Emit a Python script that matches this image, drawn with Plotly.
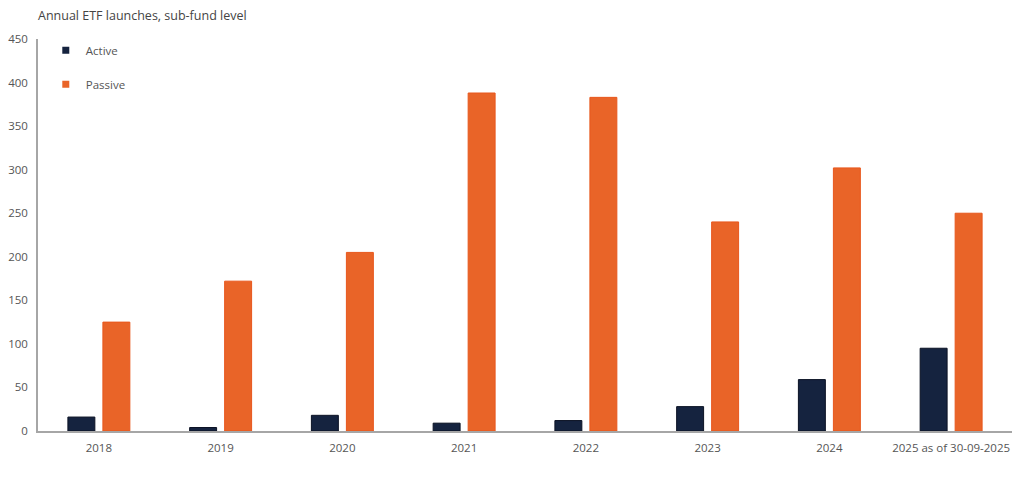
import plotly.graph_objects as go

categories = ["2018", "2019", "2020", "2021", "2022", "2023", "2024", "2025 as of 30-09-2025"]
active = [16, 4, 18, 9, 12, 28, 59, 95]
passive = [125, 172, 205, 388, 383, 240, 302, 250]
y_ticks = [0, 50, 100, 150, 200, 250, 300, 350, 400, 450]

NAVY = "#15233f"
ORANGE = "#e96428"
FONT = "Open Sans"

fig = go.Figure()
fig.add_trace(go.Bar(x=categories, y=active, name="Active", marker=dict(color=NAVY, line=dict(color="#0b1224", width=1)), showlegend=False))
fig.add_trace(go.Bar(x=categories, y=passive, name="Passive", marker=dict(color=ORANGE, line=dict(color="#e8571c", width=1)), showlegend=False))
# legend entries
fig.add_trace(go.Scatter(x=[None], y=[None], mode="markers", name="Active", legendgroup="a",
                         marker=dict(symbol="square", size=7, color=NAVY)))
fig.add_trace(go.Scatter(x=[None], y=[None], mode="markers", name="Passive", legendgroup="p",
                         marker=dict(symbol="square", size=7, color=ORANGE)))

fig.update_layout(
    width=1024, height=491,
    margin=dict(l=30, r=20, t=31, b=68),
    paper_bgcolor="white", plot_bgcolor="white",
    font=dict(family=FONT, size=11, color="#555555"),
    barmode="group", bargap=0.425, bargroupgap=0.23,
    title=dict(text="Annual ETF launches, sub-fund level", x=0.0293, xanchor="left", y=0.984, yanchor="middle",
               font=dict(family=FONT, size=12.5, color="#444444")),
    legend=dict(x=0.008, y=1.008, xanchor="left", yanchor="top", tracegroupgap=15,
                font=dict(family=FONT, size=11.5, color="#555555"), bgcolor="rgba(0,0,0,0)"),
    xaxis=dict(showline=True, linecolor="#a6a6a6", linewidth=1.5, ticks="", showgrid=False,
               automargin=False, ticklabelstandoff=5,
               tickfont=dict(size=11.5, color="#555555")),
    yaxis=dict(range=[0, 450], tickvals=y_ticks, showline=True, linecolor="#a6a6a6", linewidth=1.5,
               ticks="", showgrid=False, zeroline=False, automargin=False, ticklabelstandoff=6,
               tickfont=dict(size=11.5, color="#555555")),
)

fig.write_html("out.html")
